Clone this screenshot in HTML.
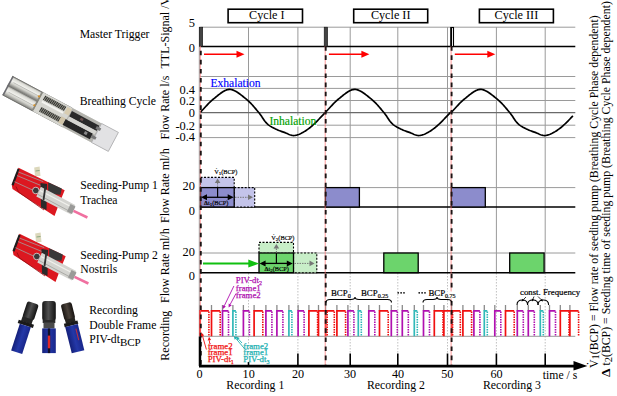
<!DOCTYPE html>
<html><head><meta charset="utf-8"><style>
html,body{margin:0;padding:0;background:#fff;width:617px;height:396px;overflow:hidden}
svg{display:block}
</style></head><body>
<svg width="617" height="396" viewBox="0 0 617 396" font-family="Liberation Serif, serif">
<rect width="617" height="396" fill="#fff"/>
<defs><linearGradient id="cyl" x1="0" y1="0" x2="0" y2="1"><stop offset="0" stop-color="#8a8a86"/><stop offset="0.18" stop-color="#dcdcd6"/><stop offset="0.45" stop-color="#f2f2ee"/><stop offset="0.7" stop-color="#cacac4"/><stop offset="1" stop-color="#7a7a76"/></linearGradient><pattern id="spr" width="2" height="4" patternUnits="userSpaceOnUse" patternTransform="rotate(28) skewX(20)"><rect width="2" height="4" fill="#a8a8a0"/><rect width="1.2" height="4" fill="#2e2e2a"/></pattern></defs><g transform="translate(60.5,113.5) rotate(28)"><rect x="-60" y="-10.5" width="120" height="21.5" fill="#d8d8d2"/><rect x="-60" y="-10.5" width="34" height="10.3" fill="url(#cyl)"/><rect x="-60" y="0" width="34" height="11" fill="url(#cyl)"/><path d="M-60,-10.5 L-58.5,-10.5 L-58.5,10.5 L-60,10.5Z" fill="#6a6a70"/><rect x="-27" y="-10" width="2" height="20" fill="#8a8a82"/><path d="M-60,-10.3 L8,-10.3 M-60,0 L-26,0 M-60,10.8 L8,10.8" stroke="#6a6a66" stroke-width="0.7" fill="none"/><path d="M-56,-5.2 L-28,-5.2 M-56,5.6 L-28,5.6" stroke="#a8a8a2" stroke-width="0.6" fill="none"/><rect x="-25" y="-10.5" width="33" height="21.5" fill="#d6d6d0"/><rect x="-22" y="-8.8" width="24" height="5" fill="url(#spr)"/><rect x="-20" y="3.3" width="23" height="5" fill="url(#spr)"/><rect x="-22" y="-2.8" width="24" height="2" fill="#f4f4f0"/><rect x="-28" y="-6" width="2" height="2" fill="#d09030"/><rect x="-28" y="4" width="2" height="2" fill="#d09030"/><rect x="8" y="-10.5" width="33" height="21.5" fill="#b4b4ae"/><rect x="9" y="-7.5" width="31" height="6" fill="#2a2a2a"/><rect x="7" y="2.5" width="31" height="6.5" fill="#262626"/><rect x="9" y="-1.5" width="31" height="4" fill="#d4d4d0"/><rect x="20" y="-6" width="3" height="2.5" fill="#6a5050"/><rect x="30" y="4" width="3" height="3" fill="#888"/><rect x="3" y="-9" width="5" height="7" fill="#d8ccb0"/><rect x="2" y="2" width="5" height="7" fill="#d0c4a8"/><rect x="41" y="-10.5" width="19" height="21.5" fill="#e2e2e4"/><rect x="41" y="-10.5" width="19" height="21.5" fill="none" stroke="#a8a8aa" stroke-width="0.7"/><rect x="38" y="-6" width="5" height="3" fill="#777"/><rect x="38" y="4" width="5" height="3" fill="#777"/></g><g transform="translate(0,0)"><path d="M18.5,167.8 L64.7,190.2 L59,204 L54.5,216 L12.5,189 L11.8,185Z" fill="#dc1820"/><path d="M16,186.5 L18.5,192 L44,210" stroke="#900c10" stroke-width="0.8" fill="none"/><path d="M11.5,184.7 L17.6,168.5 L19.6,169.2 L13.5,185.8Z" fill="#1e1e1e"/><path d="M18.6,172.1 L43.3,181.7 M17.1,175.6 L41.3,185.7 M14.5,181.7 L35.3,191.3" stroke="#a89090" stroke-width="0.9" fill="none"/><path d="M34.2,167.5 L39.6,166.5 L40.5,176 L35,176Z" fill="#dcd8bc"/><path d="M35.5,171 L39.5,170.5" stroke="#8aa880" stroke-width="1"/><path d="M40.5,183 L47,184 L46.5,210 L41,207.5Z" fill="#2a2a2a"/><path d="M48.2,182.3 L61.8,188.5 L60.5,194.8 L48.2,194Z" fill="#383838"/><path d="M40.8,186.8 L75.2,205 L70.9,214.5 L36.3,196.5Z" fill="#d4d4d0"/><path d="M40,190.5 L73.5,208" stroke="#f0f0ec" stroke-width="1.4"/><path d="M38,194.5 L71.5,212.3" stroke="#a0a09c" stroke-width="0.8"/><path d="M45.5,186 L43.5,200" stroke="#303030" stroke-width="1.8"/><circle cx="35.8" cy="190.5" r="3.3" fill="#3a3a3a" stroke="#d8c8c8" stroke-width="0.9"/><path d="M70.5,204 L75.5,206.5 L72,214 L67,211.5Z" fill="#9a9a98"/><path d="M73.5,210.8 L87.4,217.5" stroke="#f070a0" stroke-width="2.6"/></g><g transform="translate(1,66)"><path d="M18.5,167.8 L64.7,190.2 L59,204 L54.5,216 L12.5,189 L11.8,185Z" fill="#dc1820"/><path d="M16,186.5 L18.5,192 L44,210" stroke="#900c10" stroke-width="0.8" fill="none"/><path d="M11.5,184.7 L17.6,168.5 L19.6,169.2 L13.5,185.8Z" fill="#1e1e1e"/><path d="M18.6,172.1 L43.3,181.7 M17.1,175.6 L41.3,185.7 M14.5,181.7 L35.3,191.3" stroke="#a89090" stroke-width="0.9" fill="none"/><path d="M34.2,167.5 L39.6,166.5 L40.5,176 L35,176Z" fill="#dcd8bc"/><path d="M35.5,171 L39.5,170.5" stroke="#8aa880" stroke-width="1"/><path d="M40.5,183 L47,184 L46.5,210 L41,207.5Z" fill="#2a2a2a"/><path d="M48.2,182.3 L61.8,188.5 L60.5,194.8 L48.2,194Z" fill="#383838"/><path d="M40.8,186.8 L75.2,205 L70.9,214.5 L36.3,196.5Z" fill="#d4d4d0"/><path d="M40,190.5 L73.5,208" stroke="#f0f0ec" stroke-width="1.4"/><path d="M38,194.5 L71.5,212.3" stroke="#a0a09c" stroke-width="0.8"/><path d="M45.5,186 L43.5,200" stroke="#303030" stroke-width="1.8"/><circle cx="35.8" cy="190.5" r="3.3" fill="#3a3a3a" stroke="#d8c8c8" stroke-width="0.9"/><path d="M70.5,204 L75.5,206.5 L72,214 L67,211.5Z" fill="#9a9a98"/><path d="M73.5,210.8 L87.4,217.5" stroke="#f070a0" stroke-width="2.6"/></g><defs><linearGradient id="lens" x1="0" y1="0" x2="1" y2="0"><stop offset="0" stop-color="#141414"/><stop offset="0.45" stop-color="#505050"/><stop offset="1" stop-color="#121212"/></linearGradient><linearGradient id="lensb" x1="0" y1="0" x2="1" y2="0"><stop offset="0" stop-color="#1a1612"/><stop offset="0.5" stop-color="#4a423a"/><stop offset="1" stop-color="#161210"/></linearGradient><linearGradient id="blu" x1="0" y1="0" x2="1" y2="0"><stop offset="0" stop-color="#14207a"/><stop offset="0.5" stop-color="#2438a8"/><stop offset="1" stop-color="#18268a"/></linearGradient></defs><g transform="translate(25,326.5) rotate(18)"><rect x="-5.5" y="-25" width="12" height="17" rx="2.5" fill="url(#lens)"/><rect x="-5.5" y="-9" width="11" height="5" fill="#262626"/><rect x="-8" y="-4.5" width="16" height="3.5" fill="#1a1a1a"/><rect x="-5.8" y="-1" width="11.6" height="28" fill="url(#blu)"/></g><g transform="translate(49,326)"><rect x="-6.8" y="-25" width="13.6" height="20" rx="3" fill="url(#lens)"/><rect x="-6.3" y="-6" width="12.6" height="3" fill="#2a2a2a"/><rect x="-5.5" y="-3.5" width="11" height="6" fill="#4a4a4a"/><rect x="-6.8" y="2.4" width="13.6" height="24.7" fill="url(#blu)"/><rect x="-1.2" y="2.4" width="2.4" height="24.7" fill="#101028"/><rect x="-1.2" y="9.6" width="2.4" height="12.7" fill="#e02828"/></g><g transform="translate(71.5,325.5) rotate(-14)"><rect x="-5.5" y="-23" width="11" height="17" rx="2.5" fill="url(#lensb)"/><rect x="-5" y="-7" width="10" height="4" fill="#262420"/><rect x="-7" y="-3.5" width="14" height="3.5" fill="#1a1a1a"/><rect x="-6.5" y="0" width="13" height="27" fill="url(#blu)"/><rect x="3" y="4" width="1" height="12" fill="#c03040"/></g><g font-family="Liberation Serif, serif"><text x="79.7" y="37.7" font-size="11.7" fill="#000" text-anchor="start" >Master Trigger</text><text x="79.7" y="105.3" font-size="11.7" fill="#000" text-anchor="start" >Breathing Cycle</text><text x="80.3" y="188.8" font-size="11.7" fill="#000" text-anchor="start" >Seeding-Pump 1</text><text x="80.3" y="203.5" font-size="11.7" fill="#000" text-anchor="start" >Trachea</text><text x="80.3" y="259.2" font-size="11.7" fill="#000" text-anchor="start" >Seeding-Pump 2</text><text x="80.3" y="273.4" font-size="11.7" fill="#000" text-anchor="start" >Nostrils</text><text x="89.2" y="314.3" font-size="11.7" fill="#000" text-anchor="start" >Recording</text><text x="89.2" y="328.7" font-size="11.7" fill="#000" text-anchor="start" >Double Frame</text><text x="89.2" y="343.2" font-size="11.7" fill="#000" text-anchor="start" >PIV-dt<tspan font-size="11" dy="2.8">BCP</tspan></text><text transform="translate(168.7,68.5) rotate(-90)" font-size="12" fill="#000">TTL-Signal /V</text><text transform="translate(168.7,139.5) rotate(-90)" font-size="12" fill="#000">Flow Rate l/s</text><text transform="translate(168.7,223) rotate(-90)" font-size="12" fill="#000">Flow Rate ml/h</text><text transform="translate(168.7,303) rotate(-90)" font-size="12" fill="#000">Flow Rate ml/h</text><text transform="translate(168.7,360.7) rotate(-90)" font-size="12" fill="#000">Recording</text><text x="195" y="26.5" font-size="12.4" text-anchor="end">5</text><text x="195" y="51.599999999999994" font-size="12.4" text-anchor="end">0</text><text x="195" y="93.5" font-size="12.4" text-anchor="end">0.4</text><text x="195" y="105.1" font-size="12.4" text-anchor="end">0.2</text><text x="195" y="117.3" font-size="12.4" text-anchor="end">0</text><text x="195" y="129.8" font-size="12.4" text-anchor="end">-0.2</text><text x="195" y="141.10000000000002" font-size="12.4" text-anchor="end">-0.4</text><text x="195" y="190.10000000000002" font-size="12.4" text-anchor="end">20</text><text x="195" y="214.5" font-size="12.4" text-anchor="end">0</text><text x="195" y="255.5" font-size="12.4" text-anchor="end">20</text><text x="195" y="279.6" font-size="12.4" text-anchor="end">0</text><text x="199.5" y="377.6" font-size="12.2" text-anchor="middle">0</text><text x="248.7" y="377.6" font-size="12.2" text-anchor="middle">10</text><text x="298" y="377.6" font-size="12.2" text-anchor="middle">20</text><text x="350" y="377.6" font-size="12.2" text-anchor="middle">30</text><text x="398.1" y="377.6" font-size="12.2" text-anchor="middle">40</text><text x="447.3" y="377.6" font-size="12.2" text-anchor="middle">50</text><text x="496.5" y="377.6" font-size="12.2" text-anchor="middle">60</text><text x="542.8" y="378.5" font-size="11.7" fill="#000" text-anchor="start" >time / s</text><text x="226.3" y="389.2" font-size="11.8" fill="#000" text-anchor="start" >Recording 1</text><text x="367" y="389.2" font-size="11.8" fill="#000" text-anchor="start" >Recording 2</text><text x="483" y="389.2" font-size="11.8" fill="#000" text-anchor="start" >Recording 3</text></g><g stroke="#9a9a9a" stroke-width="1" fill="none"><line x1="248.5" y1="27" x2="248.5" y2="187.5"/><line x1="297.9" y1="27" x2="297.9" y2="273"/><line x1="350.2" y1="27" x2="350.2" y2="273"/><line x1="397.8" y1="27" x2="397.8" y2="273"/><line x1="447.5" y1="27" x2="447.5" y2="273"/><line x1="496.4" y1="27" x2="496.4" y2="273"/><line x1="545.2" y1="27" x2="545.2" y2="273"/></g><g stroke="#b0b0b0" stroke-width="0.8" stroke-dasharray="1.5,1.5" fill="none"><line x1="248.5" y1="273" x2="248.5" y2="354"/><line x1="297.9" y1="273" x2="297.9" y2="354"/><line x1="350.2" y1="273" x2="350.2" y2="354"/><line x1="397.8" y1="273" x2="397.8" y2="354"/><line x1="447.5" y1="273" x2="447.5" y2="354"/><line x1="496.4" y1="273" x2="496.4" y2="354"/><line x1="545.2" y1="273" x2="545.2" y2="354"/></g><g stroke="#9a9a9a" stroke-width="1"><line x1="200.3" y1="27.2" x2="575.3" y2="27.2"/><line x1="200.3" y1="76.5" x2="575.3" y2="76.5"/><line x1="200.3" y1="88.4" x2="575.3" y2="88.4"/><line x1="200.3" y1="100.5" x2="575.3" y2="100.5"/><line x1="200.3" y1="125.2" x2="575.3" y2="125.2"/><line x1="200.3" y1="137.6" x2="575.3" y2="137.6"/><line x1="200.3" y1="187.6" x2="575.3" y2="187.6"/><line x1="200.3" y1="253" x2="575.3" y2="253"/></g><line x1="200.3" y1="112.6" x2="575.3" y2="112.6" stroke="#6a6a6a" stroke-width="1.4"/><line x1="200.3" y1="46.5" x2="575.3" y2="46.5" stroke="#000" stroke-width="1.6"/><line x1="200.3" y1="207" x2="575.3" y2="207" stroke="#000" stroke-width="1.6"/><line x1="200.3" y1="272.7" x2="575.3" y2="272.7" stroke="#000" stroke-width="1.6"/><line x1="199.3" y1="27" x2="199.3" y2="366" stroke="#888" stroke-width="0.8"/><rect x="199.3" y="27.2" width="3.4" height="19.2" fill="#444" stroke="#111" stroke-width="0.6"/><line x1="204.0" y1="54.2" x2="237.5" y2="54.2" stroke="#f00" stroke-width="1.5"/><path d="M244.5,54.2 L236.5,50.7 L236.5,57.7 Z" fill="#f00"/><rect x="324.2" y="27.2" width="3.4" height="19.2" fill="#444" stroke="#111" stroke-width="0.6"/><line x1="328.9" y1="54.2" x2="362.4" y2="54.2" stroke="#f00" stroke-width="1.5"/><path d="M369.4,54.2 L361.4,50.7 L361.4,57.7 Z" fill="#f00"/><rect x="450.90000000000003" y="27.5" width="2.6" height="19" fill="#fff" stroke="#000" stroke-width="1.1"/><line x1="451.3" y1="27" x2="451.3" y2="46.5" stroke="#000" stroke-width="1.5"/><line x1="454.8" y1="54.2" x2="488.3" y2="54.2" stroke="#f00" stroke-width="1.5"/><path d="M495.3,54.2 L487.3,50.7 L487.3,57.7 Z" fill="#f00"/><rect x="269" y="115.5" width="48" height="11" fill="#fff"/><path d="M200.30,112.30 L201.06,111.54 L201.80,110.77 L202.53,110.01 L203.24,109.26 L203.93,108.51 L204.61,107.77 L205.29,107.03 L205.96,106.30 L206.62,105.57 L207.29,104.86 L207.95,104.15 L208.62,103.45 L209.30,102.76 L209.98,102.09 L210.67,101.42 L211.38,100.77 L212.10,100.13 L212.84,99.51 L213.60,98.90 L214.27,98.37 L214.95,97.82 L215.64,97.25 L216.34,96.68 L217.05,96.10 L217.76,95.51 L218.48,94.93 L219.20,94.36 L219.93,93.80 L220.67,93.25 L221.41,92.72 L222.15,92.21 L222.89,91.74 L223.64,91.29 L224.39,90.88 L225.13,90.52 L225.88,90.19 L226.63,89.92 L227.38,89.70 L228.12,89.54 L228.86,89.43 L229.60,89.40 L230.31,89.43 L231.03,89.52 L231.75,89.67 L232.48,89.88 L233.21,90.13 L233.95,90.43 L234.69,90.77 L235.43,91.15 L236.17,91.56 L236.91,92.01 L237.65,92.48 L238.39,92.98 L239.12,93.49 L239.85,94.02 L240.57,94.56 L241.28,95.12 L241.99,95.67 L242.69,96.23 L243.37,96.78 L244.05,97.33 L244.71,97.87 L245.36,98.39 L246.00,98.90 L246.84,99.59 L247.68,100.30 L248.50,101.05 L249.30,101.82 L250.10,102.60 L250.88,103.41 L251.64,104.22 L252.40,105.04 L253.14,105.87 L253.86,106.70 L254.57,107.52 L255.27,108.34 L255.94,109.15 L256.61,109.94 L257.25,110.72 L257.89,111.47 L258.50,112.20 L259.40,113.31 L260.24,114.42 L261.02,115.52 L261.77,116.60 L262.47,117.67 L263.16,118.71 L263.83,119.71 L264.50,120.67 L265.18,121.57 L265.88,122.42 L266.60,123.20 L267.34,123.91 L268.07,124.54 L268.79,125.12 L269.52,125.64 L270.25,126.12 L270.98,126.57 L271.72,126.99 L272.47,127.39 L273.23,127.79 L274.01,128.19 L274.80,128.60 L275.48,128.95 L276.17,129.28 L276.87,129.60 L277.58,129.91 L278.29,130.21 L279.01,130.51 L279.74,130.79 L280.48,131.07 L281.22,131.34 L281.98,131.61 L282.74,131.88 L283.52,132.14 L284.30,132.40 L284.98,132.64 L285.67,132.92 L286.35,133.22 L287.04,133.53 L287.74,133.84 L288.44,134.16 L289.15,134.46 L289.87,134.74 L290.60,134.99 L291.34,135.20 L292.10,135.37 L292.87,135.48 L293.66,135.53 L294.47,135.50 L295.30,135.40 L295.94,135.27 L296.58,135.12 L297.24,134.93 L297.90,134.72 L298.58,134.48 L299.26,134.21 L299.96,133.91 L300.66,133.59 L301.37,133.24 L302.08,132.87 L302.80,132.47 L303.53,132.06 L304.26,131.62 L305.00,131.16 L305.74,130.68 L306.49,130.18 L307.24,129.66 L307.99,129.12 L308.74,128.57 L309.50,128.00 L310.20,127.46 L310.90,126.88 L311.62,126.26 L312.35,125.62 L313.09,124.95 L313.83,124.25 L314.58,123.54 L315.33,122.81 L316.09,122.06 L316.85,121.30 L317.61,120.53 L318.36,119.75 L319.12,118.97 L319.87,118.19 L320.62,117.41 L321.36,116.64 L322.09,115.88 L322.82,115.13 L323.53,114.39 L324.23,113.67 L324.92,112.97 L325.60,112.30 L326.16,111.54 L326.90,110.77 L327.63,110.01 L328.34,109.26 L329.03,108.51 L329.71,107.77 L330.39,107.03 L331.06,106.30 L331.72,105.57 L332.39,104.86 L333.05,104.15 L333.72,103.45 L334.40,102.76 L335.08,102.09 L335.77,101.42 L336.48,100.77 L337.20,100.13 L337.94,99.51 L338.70,98.90 L339.37,98.37 L340.05,97.82 L340.74,97.25 L341.44,96.68 L342.15,96.10 L342.86,95.51 L343.58,94.93 L344.30,94.36 L345.03,93.80 L345.77,93.25 L346.51,92.72 L347.25,92.21 L347.99,91.74 L348.74,91.29 L349.49,90.88 L350.23,90.52 L350.98,90.19 L351.73,89.92 L352.48,89.70 L353.22,89.54 L353.96,89.43 L354.70,89.40 L355.41,89.43 L356.13,89.52 L356.85,89.67 L357.58,89.88 L358.31,90.13 L359.05,90.43 L359.79,90.77 L360.53,91.15 L361.27,91.56 L362.01,92.01 L362.75,92.48 L363.49,92.98 L364.22,93.49 L364.95,94.02 L365.67,94.56 L366.38,95.12 L367.09,95.67 L367.79,96.23 L368.47,96.78 L369.15,97.33 L369.81,97.87 L370.46,98.39 L371.10,98.90 L371.94,99.59 L372.78,100.30 L373.60,101.05 L374.40,101.82 L375.20,102.60 L375.98,103.41 L376.74,104.22 L377.50,105.04 L378.24,105.87 L378.96,106.70 L379.67,107.52 L380.37,108.34 L381.04,109.15 L381.71,109.94 L382.35,110.72 L382.99,111.47 L383.60,112.20 L384.50,113.31 L385.34,114.42 L386.12,115.52 L386.87,116.60 L387.57,117.67 L388.26,118.71 L388.93,119.71 L389.60,120.67 L390.28,121.57 L390.98,122.42 L391.70,123.20 L392.44,123.91 L393.17,124.54 L393.89,125.12 L394.62,125.64 L395.35,126.12 L396.08,126.57 L396.82,126.99 L397.57,127.39 L398.33,127.79 L399.11,128.19 L399.90,128.60 L400.58,128.95 L401.27,129.28 L401.97,129.60 L402.68,129.91 L403.39,130.21 L404.11,130.51 L404.84,130.79 L405.58,131.07 L406.32,131.34 L407.08,131.61 L407.84,131.88 L408.62,132.14 L409.40,132.40 L410.08,132.64 L410.77,132.92 L411.45,133.22 L412.14,133.53 L412.84,133.84 L413.54,134.16 L414.25,134.46 L414.97,134.74 L415.70,134.99 L416.44,135.20 L417.20,135.37 L417.97,135.48 L418.76,135.53 L419.57,135.50 L420.40,135.40 L421.04,135.27 L421.68,135.12 L422.34,134.93 L423.00,134.72 L423.68,134.48 L424.36,134.21 L425.06,133.91 L425.76,133.59 L426.47,133.24 L427.18,132.87 L427.90,132.47 L428.63,132.06 L429.36,131.62 L430.10,131.16 L430.84,130.68 L431.59,130.18 L432.34,129.66 L433.09,129.12 L433.84,128.57 L434.60,128.00 L435.30,127.46 L436.00,126.88 L436.72,126.26 L437.45,125.62 L438.19,124.95 L438.93,124.25 L439.68,123.54 L440.43,122.81 L441.19,122.06 L441.95,121.30 L442.71,120.53 L443.46,119.75 L444.22,118.97 L444.97,118.19 L445.72,117.41 L446.46,116.64 L447.19,115.88 L447.92,115.13 L448.63,114.39 L449.33,113.67 L450.02,112.97 L450.70,112.30 L452.06,111.54 L452.80,110.77 L453.52,110.01 L454.23,109.26 L454.93,108.51 L455.61,107.77 L456.28,107.03 L456.95,106.30 L457.61,105.57 L458.28,104.86 L458.94,104.15 L459.61,103.45 L460.28,102.76 L460.96,102.09 L461.66,101.42 L462.36,100.77 L463.08,100.13 L463.82,99.51 L464.58,98.90 L465.25,98.37 L465.93,97.82 L466.62,97.25 L467.31,96.68 L468.02,96.10 L468.73,95.51 L469.45,94.93 L470.17,94.36 L470.90,93.80 L471.64,93.25 L472.37,92.72 L473.11,92.21 L473.86,91.74 L474.60,91.29 L475.35,90.88 L476.09,90.52 L476.84,90.19 L477.59,89.92 L478.33,89.70 L479.08,89.54 L479.82,89.43 L480.55,89.40 L481.26,89.43 L481.98,89.52 L482.70,89.67 L483.43,89.88 L484.16,90.13 L484.89,90.43 L485.63,90.77 L486.37,91.15 L487.11,91.56 L487.85,92.01 L488.59,92.48 L489.33,92.98 L490.06,93.49 L490.78,94.02 L491.50,94.56 L492.22,95.12 L492.92,95.67 L493.62,96.23 L494.31,96.78 L494.98,97.33 L495.64,97.87 L496.29,98.39 L496.93,98.90 L497.77,99.59 L498.60,100.30 L499.42,101.05 L500.22,101.82 L501.02,102.60 L501.80,103.41 L502.56,104.22 L503.31,105.04 L504.05,105.87 L504.78,106.70 L505.48,107.52 L506.18,108.34 L506.86,109.15 L507.52,109.94 L508.16,110.72 L508.79,111.47 L509.41,112.20 L510.31,113.31 L511.14,114.42 L511.93,115.52 L512.67,116.60 L513.37,117.67 L514.06,118.71 L514.73,119.71 L515.40,120.67 L516.08,121.57 L516.77,122.42 L517.49,123.20 L518.23,123.91 L518.96,124.54 L519.68,125.12 L520.41,125.64 L521.14,126.12 L521.87,126.57 L522.60,126.99 L523.35,127.39 L524.11,127.79 L524.89,128.19 L525.68,128.60 L526.36,128.95 L527.05,129.28 L527.75,129.60 L528.45,129.91 L529.17,130.21 L529.89,130.51 L530.61,130.79 L531.35,131.07 L532.09,131.34 L532.85,131.61 L533.61,131.88 L534.38,132.14 L535.17,132.40 L535.85,132.64 L536.53,132.92 L537.22,133.22 L537.90,133.53 L538.60,133.84 L539.30,134.16 L540.01,134.46 L540.72,134.74 L541.45,134.99 L542.20,135.20 L542.95,135.37 L543.72,135.48 L544.51,135.53 L545.32,135.50 L546.15,135.40 L546.78,135.27 L547.43,135.12 L548.08,134.93 L548.75,134.72 L549.42,134.48 L550.11,134.21 L550.80,133.91 L551.50,133.59 L552.21,133.24 L552.92,132.87 L553.64,132.47 L554.36,132.06 L555.10,131.62 L555.83,131.16 L556.57,130.68 L557.32,130.18 L558.07,129.66 L558.82,129.12 L559.57,128.57 L560.33,128.00 L561.02,127.46 L561.73,126.88 L562.44,126.26 L563.17,125.62 L563.91,124.95 L564.65,124.25 L565.40,123.54 L566.15,122.81 L566.90,122.06 L567.66,121.30 L568.42,120.53 L569.18,119.75 L569.93,118.97 L570.68,118.19 L571.43,117.41 L572.17,116.64 L572.90,115.88" fill="none" stroke="#000" stroke-width="1.7" stroke-linejoin="round"/><g font-family="Liberation Serif, serif"><text x="210.4" y="86.5" font-size="11.6" fill="#0000ff" text-anchor="start" stroke="#0000ff" stroke-width="0.15" >Exhalation</text><text x="269.4" y="124.5" font-size="11.6" fill="#00a000" text-anchor="start" stroke="#00a000" stroke-width="0.15" >Inhalation</text></g><rect x="200.5" y="177.4" width="33.7" height="10.2" fill="#c4c4ea" stroke="#000" stroke-width="1.1" stroke-dasharray="2,1.5"/><rect x="234.2" y="187.6" width="20.5" height="19.4" fill="#c4c4ea" stroke="#000" stroke-width="1.1" stroke-dasharray="2,1.5"/><rect x="200.5" y="187.6" width="33.7" height="19.4" fill="#8c8ccc" stroke="#000" stroke-width="1.3"/><line x1="217.6" y1="187.6" x2="217.6" y2="197.3" stroke="#000" stroke-width="1.2"/><line x1="205" y1="197.3" x2="230" y2="197.3" stroke="#000" stroke-width="1.3"/><path d="M201,197.3 L207,194.3 L207,200.3Z M233.7,197.3 L227.7,194.3 L227.7,200.3Z" fill="#000"/><line x1="217.6" y1="187" x2="217.6" y2="182" stroke="#777" stroke-width="1" stroke-dasharray="1.5,1"/><path d="M217.6,178.5 L214.8,183 L220.4,183Z" fill="#777"/><line x1="235" y1="197.3" x2="249" y2="197.3" stroke="#777" stroke-width="1" stroke-dasharray="1.5,1"/><path d="M253,197.3 L248,194.5 L248,200.1Z" fill="#777"/><g font-family="Liberation Serif, serif"><text x="214.2" y="173.5" font-size="6.3" stroke="#000" stroke-width="0.18">V̇<tspan font-size="5" dy="1">1</tspan><tspan dy="-1">(BCP)</tspan></text><text x="204" y="205" font-size="6.3" stroke="#000" stroke-width="0.18"><tspan font-weight="bold">Δ</tspan>t<tspan font-size="5" dy="1">1</tspan><tspan dy="-1">(BCP)</tspan></text></g><rect x="325.4" y="187.6" width="34" height="19.4" fill="#8c8ccc" stroke="#000" stroke-width="1.3"/><rect x="451.3" y="187.6" width="34" height="19.4" fill="#8c8ccc" stroke="#000" stroke-width="1.3"/><rect x="259" y="242.4" width="34.5" height="11" fill="#c8eec8" stroke="#000" stroke-width="1.1" stroke-dasharray="2,1.5"/><rect x="293.5" y="253" width="23.3" height="19.7" fill="#c8eec8" stroke="#000" stroke-width="1.1" stroke-dasharray="2,1.5"/><rect x="259" y="253" width="34.5" height="19.7" fill="#6cd46c" stroke="#000" stroke-width="1.3"/><line x1="276.4" y1="253" x2="276.4" y2="263.4" stroke="#000" stroke-width="1.2"/><line x1="264" y1="263.4" x2="289" y2="263.4" stroke="#000" stroke-width="1.3"/><path d="M259.6,263.4 L265.6,260.4 L265.6,266.4Z M292.8,263.4 L286.8,260.4 L286.8,266.4Z" fill="#000"/><line x1="276.4" y1="252.5" x2="276.4" y2="248" stroke="#777" stroke-width="1" stroke-dasharray="1.5,1"/><path d="M276.4,244 L273.6,248.5 L279.2,248.5Z" fill="#777"/><line x1="294.5" y1="263.4" x2="310" y2="263.4" stroke="#777" stroke-width="1" stroke-dasharray="1.5,1"/><path d="M314.5,263.4 L309.5,260.6 L309.5,266.2Z" fill="#777"/><line x1="203" y1="263.6" x2="250" y2="263.6" stroke="#10c010" stroke-width="2"/><path d="M259.3,263.6 L248.3,259.6 L248.3,267.6Z" fill="#10c010"/><g font-family="Liberation Serif, serif"><text x="271.3" y="239.5" font-size="6.3" stroke="#000" stroke-width="0.18">V̇<tspan font-size="5" dy="1">2</tspan><tspan dy="-1">(BCP)</tspan></text><text x="264.5" y="270.8" font-size="6.3" stroke="#000" stroke-width="0.18"><tspan font-weight="bold">Δ</tspan>t<tspan font-size="5" dy="1">2</tspan><tspan dy="-1">(BCP)</tspan></text></g><rect x="383.79999999999995" y="253" width="34.4" height="19.7" fill="#6cd46c" stroke="#000" stroke-width="1.3"/><rect x="509.7" y="253" width="34.4" height="19.7" fill="#6cd46c" stroke="#000" stroke-width="1.3"/><line x1="200.3" y1="336.3" x2="575.3" y2="336.3" stroke="#999" stroke-width="1"/><line x1="200.2" y1="305" x2="200.2" y2="310.8" stroke="#8a8a8a" stroke-width="1.3"/><path d="M200.2,336.3 L200.2,310.8 L208.9,310.8" fill="none" stroke="#f01010" stroke-width="1.7"/><line x1="208.9" y1="311.6" x2="208.9" y2="336.3" stroke="#f01010" stroke-width="1.6" stroke-dasharray="1.3,1.2"/><line x1="211.5" y1="305" x2="211.5" y2="310.8" stroke="#8a8a8a" stroke-width="1.3"/><path d="M211.5,336.3 L211.5,310.8 L220.2,310.8" fill="none" stroke="#f01010" stroke-width="1.7"/><line x1="220.2" y1="311.6" x2="220.2" y2="336.3" stroke="#f01010" stroke-width="1.6" stroke-dasharray="1.3,1.2"/><line x1="222.5" y1="305" x2="222.5" y2="310.8" stroke="#8a8a8a" stroke-width="1.3"/><path d="M222.5,336.3 L222.5,310.8 L228.5,310.8" fill="none" stroke="#b010b0" stroke-width="1.7"/><line x1="228.5" y1="311.6" x2="228.5" y2="336.3" stroke="#b010b0" stroke-width="1.6" stroke-dasharray="1.3,1.2"/><line x1="232.9" y1="305" x2="232.9" y2="310.8" stroke="#8a8a8a" stroke-width="1.3"/><path d="M232.9,336.3 L232.9,310.8 L235.9,310.8" fill="none" stroke="#30b8b8" stroke-width="1.7"/><line x1="235.9" y1="311.6" x2="235.9" y2="336.3" stroke="#30b8b8" stroke-width="1.6" stroke-dasharray="1.3,1.2"/><line x1="243.4" y1="305" x2="243.4" y2="310.8" stroke="#8a8a8a" stroke-width="1.3"/><path d="M243.4,336.3 L243.4,310.8 L249.4,310.8" fill="none" stroke="#b010b0" stroke-width="1.7"/><line x1="249.4" y1="311.6" x2="249.4" y2="336.3" stroke="#b010b0" stroke-width="1.6" stroke-dasharray="1.3,1.2"/><line x1="254.1" y1="305" x2="254.1" y2="310.8" stroke="#8a8a8a" stroke-width="1.3"/><path d="M254.1,336.3 L254.1,310.8 L262.8,310.8" fill="none" stroke="#f01010" stroke-width="1.7"/><line x1="262.8" y1="311.6" x2="262.8" y2="336.3" stroke="#f01010" stroke-width="1.6" stroke-dasharray="1.3,1.2"/><line x1="265.9" y1="305" x2="265.9" y2="310.8" stroke="#8a8a8a" stroke-width="1.3"/><path d="M265.9,336.3 L265.9,310.8 L271.9,310.8" fill="none" stroke="#b010b0" stroke-width="1.7"/><line x1="271.9" y1="311.6" x2="271.9" y2="336.3" stroke="#b010b0" stroke-width="1.6" stroke-dasharray="1.3,1.2"/><line x1="276.9" y1="305" x2="276.9" y2="310.8" stroke="#8a8a8a" stroke-width="1.3"/><path d="M276.9,336.3 L276.9,310.8 L282.9,310.8" fill="none" stroke="#b010b0" stroke-width="1.7"/><line x1="282.9" y1="311.6" x2="282.9" y2="336.3" stroke="#b010b0" stroke-width="1.6" stroke-dasharray="1.3,1.2"/><line x1="288.9" y1="305" x2="288.9" y2="310.8" stroke="#8a8a8a" stroke-width="1.3"/><path d="M288.9,336.3 L288.9,310.8 L291.9,310.8" fill="none" stroke="#30b8b8" stroke-width="1.7"/><line x1="291.9" y1="311.6" x2="291.9" y2="336.3" stroke="#30b8b8" stroke-width="1.6" stroke-dasharray="1.3,1.2"/><line x1="298.1" y1="305" x2="298.1" y2="310.8" stroke="#8a8a8a" stroke-width="1.3"/><path d="M298.1,336.3 L298.1,310.8 L304.1,310.8" fill="none" stroke="#b010b0" stroke-width="1.7"/><line x1="304.1" y1="311.6" x2="304.1" y2="336.3" stroke="#b010b0" stroke-width="1.6" stroke-dasharray="1.3,1.2"/><line x1="308.9" y1="305" x2="308.9" y2="310.8" stroke="#8a8a8a" stroke-width="1.3"/><path d="M308.9,336.3 L308.9,310.8 L317.6,310.8" fill="none" stroke="#f01010" stroke-width="1.7"/><line x1="317.6" y1="311.6" x2="317.6" y2="336.3" stroke="#f01010" stroke-width="1.6" stroke-dasharray="1.3,1.2"/><line x1="318.5" y1="305" x2="318.5" y2="310.8" stroke="#8a8a8a" stroke-width="1.3"/><path d="M318.5,336.3 L318.5,310.8 L327.2,310.8" fill="none" stroke="#f01010" stroke-width="1.7"/><line x1="327.2" y1="311.6" x2="327.2" y2="336.3" stroke="#f01010" stroke-width="1.6" stroke-dasharray="1.3,1.2"/><line x1="325.6" y1="305" x2="325.6" y2="310.8" stroke="#8a8a8a" stroke-width="1.3"/><path d="M325.6,336.3 L325.6,310.8 L334.3,310.8" fill="none" stroke="#f01010" stroke-width="1.7"/><line x1="334.3" y1="311.6" x2="334.3" y2="336.3" stroke="#f01010" stroke-width="1.6" stroke-dasharray="1.3,1.2"/><line x1="336.9" y1="305" x2="336.9" y2="310.8" stroke="#8a8a8a" stroke-width="1.3"/><path d="M336.9,336.3 L336.9,310.8 L345.6,310.8" fill="none" stroke="#f01010" stroke-width="1.7"/><line x1="345.6" y1="311.6" x2="345.6" y2="336.3" stroke="#f01010" stroke-width="1.6" stroke-dasharray="1.3,1.2"/><line x1="347.9" y1="305" x2="347.9" y2="310.8" stroke="#8a8a8a" stroke-width="1.3"/><path d="M347.9,336.3 L347.9,310.8 L353.9,310.8" fill="none" stroke="#b010b0" stroke-width="1.7"/><line x1="353.9" y1="311.6" x2="353.9" y2="336.3" stroke="#b010b0" stroke-width="1.6" stroke-dasharray="1.3,1.2"/><line x1="358.3" y1="305" x2="358.3" y2="310.8" stroke="#8a8a8a" stroke-width="1.3"/><path d="M358.3,336.3 L358.3,310.8 L361.3,310.8" fill="none" stroke="#30b8b8" stroke-width="1.7"/><line x1="361.3" y1="311.6" x2="361.3" y2="336.3" stroke="#30b8b8" stroke-width="1.6" stroke-dasharray="1.3,1.2"/><line x1="368.8" y1="305" x2="368.8" y2="310.8" stroke="#8a8a8a" stroke-width="1.3"/><path d="M368.8,336.3 L368.8,310.8 L374.8,310.8" fill="none" stroke="#b010b0" stroke-width="1.7"/><line x1="374.8" y1="311.6" x2="374.8" y2="336.3" stroke="#b010b0" stroke-width="1.6" stroke-dasharray="1.3,1.2"/><line x1="379.5" y1="305" x2="379.5" y2="310.8" stroke="#8a8a8a" stroke-width="1.3"/><path d="M379.5,336.3 L379.5,310.8 L388.2,310.8" fill="none" stroke="#f01010" stroke-width="1.7"/><line x1="388.2" y1="311.6" x2="388.2" y2="336.3" stroke="#f01010" stroke-width="1.6" stroke-dasharray="1.3,1.2"/><line x1="391.3" y1="305" x2="391.3" y2="310.8" stroke="#8a8a8a" stroke-width="1.3"/><path d="M391.3,336.3 L391.3,310.8 L397.3,310.8" fill="none" stroke="#b010b0" stroke-width="1.7"/><line x1="397.3" y1="311.6" x2="397.3" y2="336.3" stroke="#b010b0" stroke-width="1.6" stroke-dasharray="1.3,1.2"/><line x1="402.3" y1="305" x2="402.3" y2="310.8" stroke="#8a8a8a" stroke-width="1.3"/><path d="M402.3,336.3 L402.3,310.8 L408.3,310.8" fill="none" stroke="#b010b0" stroke-width="1.7"/><line x1="408.3" y1="311.6" x2="408.3" y2="336.3" stroke="#b010b0" stroke-width="1.6" stroke-dasharray="1.3,1.2"/><line x1="414.3" y1="305" x2="414.3" y2="310.8" stroke="#8a8a8a" stroke-width="1.3"/><path d="M414.3,336.3 L414.3,310.8 L417.3,310.8" fill="none" stroke="#30b8b8" stroke-width="1.7"/><line x1="417.3" y1="311.6" x2="417.3" y2="336.3" stroke="#30b8b8" stroke-width="1.6" stroke-dasharray="1.3,1.2"/><line x1="423.5" y1="305" x2="423.5" y2="310.8" stroke="#8a8a8a" stroke-width="1.3"/><path d="M423.5,336.3 L423.5,310.8 L429.5,310.8" fill="none" stroke="#b010b0" stroke-width="1.7"/><line x1="429.5" y1="311.6" x2="429.5" y2="336.3" stroke="#b010b0" stroke-width="1.6" stroke-dasharray="1.3,1.2"/><line x1="434.3" y1="305" x2="434.3" y2="310.8" stroke="#8a8a8a" stroke-width="1.3"/><path d="M434.3,336.3 L434.3,310.8 L443.0,310.8" fill="none" stroke="#f01010" stroke-width="1.7"/><line x1="443.0" y1="311.6" x2="443.0" y2="336.3" stroke="#f01010" stroke-width="1.6" stroke-dasharray="1.3,1.2"/><line x1="443.9" y1="305" x2="443.9" y2="310.8" stroke="#8a8a8a" stroke-width="1.3"/><path d="M443.9,336.3 L443.9,310.8 L452.6,310.8" fill="none" stroke="#f01010" stroke-width="1.7"/><line x1="452.6" y1="311.6" x2="452.6" y2="336.3" stroke="#f01010" stroke-width="1.6" stroke-dasharray="1.3,1.2"/><line x1="451.6" y1="305" x2="451.6" y2="310.8" stroke="#8a8a8a" stroke-width="1.3"/><path d="M451.6,336.3 L451.6,310.8 L460.3,310.8" fill="none" stroke="#f01010" stroke-width="1.7"/><line x1="460.3" y1="311.6" x2="460.3" y2="336.3" stroke="#f01010" stroke-width="1.6" stroke-dasharray="1.3,1.2"/><line x1="462.9" y1="305" x2="462.9" y2="310.8" stroke="#8a8a8a" stroke-width="1.3"/><path d="M462.9,336.3 L462.9,310.8 L471.6,310.8" fill="none" stroke="#f01010" stroke-width="1.7"/><line x1="471.6" y1="311.6" x2="471.6" y2="336.3" stroke="#f01010" stroke-width="1.6" stroke-dasharray="1.3,1.2"/><line x1="473.9" y1="305" x2="473.9" y2="310.8" stroke="#8a8a8a" stroke-width="1.3"/><path d="M473.9,336.3 L473.9,310.8 L479.9,310.8" fill="none" stroke="#b010b0" stroke-width="1.7"/><line x1="479.9" y1="311.6" x2="479.9" y2="336.3" stroke="#b010b0" stroke-width="1.6" stroke-dasharray="1.3,1.2"/><line x1="484.3" y1="305" x2="484.3" y2="310.8" stroke="#8a8a8a" stroke-width="1.3"/><path d="M484.3,336.3 L484.3,310.8 L487.3,310.8" fill="none" stroke="#30b8b8" stroke-width="1.7"/><line x1="487.3" y1="311.6" x2="487.3" y2="336.3" stroke="#30b8b8" stroke-width="1.6" stroke-dasharray="1.3,1.2"/><line x1="494.8" y1="305" x2="494.8" y2="310.8" stroke="#8a8a8a" stroke-width="1.3"/><path d="M494.8,336.3 L494.8,310.8 L500.8,310.8" fill="none" stroke="#b010b0" stroke-width="1.7"/><line x1="500.8" y1="311.6" x2="500.8" y2="336.3" stroke="#b010b0" stroke-width="1.6" stroke-dasharray="1.3,1.2"/><line x1="505.5" y1="305" x2="505.5" y2="310.8" stroke="#8a8a8a" stroke-width="1.3"/><path d="M505.5,336.3 L505.5,310.8 L514.2,310.8" fill="none" stroke="#f01010" stroke-width="1.7"/><line x1="514.2" y1="311.6" x2="514.2" y2="336.3" stroke="#f01010" stroke-width="1.6" stroke-dasharray="1.3,1.2"/><line x1="517.3" y1="305" x2="517.3" y2="310.8" stroke="#8a8a8a" stroke-width="1.3"/><path d="M517.3,336.3 L517.3,310.8 L523.3,310.8" fill="none" stroke="#b010b0" stroke-width="1.7"/><line x1="523.3" y1="311.6" x2="523.3" y2="336.3" stroke="#b010b0" stroke-width="1.6" stroke-dasharray="1.3,1.2"/><line x1="528.3" y1="305" x2="528.3" y2="310.8" stroke="#8a8a8a" stroke-width="1.3"/><path d="M528.3,336.3 L528.3,310.8 L534.3,310.8" fill="none" stroke="#b010b0" stroke-width="1.7"/><line x1="534.3" y1="311.6" x2="534.3" y2="336.3" stroke="#b010b0" stroke-width="1.6" stroke-dasharray="1.3,1.2"/><line x1="540.3" y1="305" x2="540.3" y2="310.8" stroke="#8a8a8a" stroke-width="1.3"/><path d="M540.3,336.3 L540.3,310.8 L543.3,310.8" fill="none" stroke="#30b8b8" stroke-width="1.7"/><line x1="543.3" y1="311.6" x2="543.3" y2="336.3" stroke="#30b8b8" stroke-width="1.6" stroke-dasharray="1.3,1.2"/><line x1="549.5" y1="305" x2="549.5" y2="310.8" stroke="#8a8a8a" stroke-width="1.3"/><path d="M549.5,336.3 L549.5,310.8 L555.5,310.8" fill="none" stroke="#b010b0" stroke-width="1.7"/><line x1="555.5" y1="311.6" x2="555.5" y2="336.3" stroke="#b010b0" stroke-width="1.6" stroke-dasharray="1.3,1.2"/><line x1="560.3" y1="305" x2="560.3" y2="310.8" stroke="#8a8a8a" stroke-width="1.3"/><path d="M560.3,336.3 L560.3,310.8 L569.0,310.8" fill="none" stroke="#f01010" stroke-width="1.7"/><line x1="569.0" y1="311.6" x2="569.0" y2="336.3" stroke="#f01010" stroke-width="1.6" stroke-dasharray="1.3,1.2"/><line x1="569.9" y1="305" x2="569.9" y2="310.8" stroke="#8a8a8a" stroke-width="1.3"/><path d="M569.9,336.3 L569.9,310.8 L578.6,310.8" fill="none" stroke="#f01010" stroke-width="1.7"/><line x1="578.6" y1="311.6" x2="578.6" y2="336.3" stroke="#f01010" stroke-width="1.6" stroke-dasharray="1.3,1.2"/><line x1="200.3" y1="46" x2="200.3" y2="366" stroke="#ff7070" stroke-width="0.7"/><line x1="200.8" y1="50.7" x2="200.8" y2="366" stroke="#1e1414" stroke-width="1.9" stroke-dasharray="4.6,4.5"/><line x1="325.2" y1="46" x2="325.2" y2="366" stroke="#ff7070" stroke-width="0.7"/><line x1="325.7" y1="46.2" x2="325.7" y2="366" stroke="#1e1414" stroke-width="1.9" stroke-dasharray="4.6,4.5"/><line x1="451.1" y1="46" x2="451.1" y2="366" stroke="#ff7070" stroke-width="0.7"/><line x1="451.6" y1="46.2" x2="451.6" y2="366" stroke="#1e1414" stroke-width="1.9" stroke-dasharray="4.6,4.5"/><line x1="248.5" y1="362" x2="248.5" y2="366" stroke="#000" stroke-width="1.6"/><line x1="297.9" y1="353.5" x2="297.9" y2="366" stroke="#000" stroke-width="1.6"/><line x1="350.2" y1="353.5" x2="350.2" y2="366" stroke="#000" stroke-width="1.6"/><line x1="397.8" y1="353.5" x2="397.8" y2="366" stroke="#000" stroke-width="1.6"/><line x1="447.5" y1="353.5" x2="447.5" y2="366" stroke="#000" stroke-width="1.6"/><line x1="496.4" y1="353.5" x2="496.4" y2="366" stroke="#000" stroke-width="1.6"/><line x1="545.2" y1="353.5" x2="545.2" y2="366" stroke="#000" stroke-width="1.6"/><line x1="200" y1="336.5" x2="200" y2="366" stroke="#000" stroke-width="2.4"/><line x1="199" y1="366.2" x2="576" y2="366.2" stroke="#000" stroke-width="2.8"/><path d="M587.4,365.9 L573.5,361 L573.5,370.6Z" fill="#000"/><g font-family="Liberation Serif, serif"><rect x="228.10000000000002" y="9.2" width="74.4" height="13.5" fill="#fff" stroke="#000" stroke-width="1.6"/><text x="266.8" y="19.1" font-size="12.2" text-anchor="middle">Cycle I</text><rect x="353.7" y="9.2" width="74.00000000000003" height="13.5" fill="#fff" stroke="#000" stroke-width="1.6"/><text x="390.7" y="19.1" font-size="12.2" text-anchor="middle">Cycle II</text><rect x="479.40000000000003" y="9.2" width="74.00000000000003" height="13.5" fill="#fff" stroke="#000" stroke-width="1.6"/><text x="516.4000000000001" y="19.1" font-size="12.2" text-anchor="middle">Cycle III</text></g><g font-family="Liberation Serif, serif"><text x="331" y="295.5" font-size="8.8" fill="#000" text-anchor="start" stroke="#000" stroke-width="0.2" >BCP<tspan font-size="6" dy="2">0</tspan></text><text x="361" y="295.5" font-size="8.8" fill="#000" text-anchor="start" stroke="#000" stroke-width="0.2" >BCP<tspan font-size="6" dy="2">0.25</tspan></text><rect x="444" y="291.5" width="11.5" height="7" fill="#fff"/><text x="428.4" y="295.5" font-size="8.8" fill="#000" text-anchor="start" stroke="#000" stroke-width="0.2" >BCP<tspan font-size="6" dy="2">0.75</tspan></text><circle cx="398.2" cy="292.8" r="0.85" fill="#000"/><circle cx="401.1" cy="292.8" r="0.85" fill="#000"/><circle cx="404.0" cy="292.8" r="0.85" fill="#000"/><circle cx="419.2" cy="292.8" r="0.85" fill="#000"/><circle cx="422.1" cy="292.8" r="0.85" fill="#000"/><circle cx="425.0" cy="292.8" r="0.85" fill="#000"/><text x="520" y="295.3" font-size="8.8" fill="#000" text-anchor="start" stroke="#000" stroke-width="0.2" >const. Frequency</text><text x="235.8" y="282.5" font-size="8.8" fill="#b010b0" text-anchor="start" stroke="#b010b0" stroke-width="0.25" >PIV-dt<tspan font-size="6" dy="2">2</tspan></text><text x="235.8" y="290.5" font-size="8.8" fill="#b010b0" text-anchor="start" stroke="#b010b0" stroke-width="0.25" >frame1</text><text x="235.8" y="297.5" font-size="8.8" fill="#b010b0" text-anchor="start" stroke="#b010b0" stroke-width="0.25" >frame2</text><text x="207.7" y="348.5" font-size="8.8" fill="#f01010" text-anchor="start" stroke="#f01010" stroke-width="0.25" >frame2</text><text x="207.7" y="355" font-size="8.8" fill="#f01010" text-anchor="start" stroke="#f01010" stroke-width="0.25" >frame1</text><text x="207.7" y="362" font-size="8.8" fill="#f01010" text-anchor="start" stroke="#f01010" stroke-width="0.25" >PIV-dt<tspan font-size="6" dy="2">1</tspan></text><text x="243.3" y="348.5" font-size="8.8" fill="#20b0b0" text-anchor="start" stroke="#20b0b0" stroke-width="0.25" >frame2</text><text x="243.3" y="355" font-size="8.8" fill="#20b0b0" text-anchor="start" stroke="#20b0b0" stroke-width="0.25" >frame1</text><text x="243.3" y="362" font-size="8.8" fill="#20b0b0" text-anchor="start" stroke="#20b0b0" stroke-width="0.25" >PIV-dt<tspan font-size="6" dy="2">3</tspan></text></g><path d="M326,302.5 Q326,299.5 330,299.5 L351,299.5 Q355,299.5 355,297.0 Q355,299.5 359,299.5 L387.5,299.5 Q391.5,299.5 391.5,302.5" fill="none" stroke="#000" stroke-width="1.1"/><path d="M423,302.5 Q423,299.5 427,299.5 L433,299.5 Q437,299.5 437,297.0 Q437,299.5 441,299.5 L447.6,299.5 Q451.6,299.5 451.6,302.5" fill="none" stroke="#000" stroke-width="1.1"/><path d="M517,305 Q517,300 522.3,300 Q527.6,300 527.6,305" fill="none" stroke="#000" stroke-width="1.1"/><path d="M527.5,305 Q527.5,300 532.8,300 Q538.1,300 538.1,305" fill="none" stroke="#000" stroke-width="1.1"/><path d="M538,305 Q538,300 543.3,300 Q548.6,300 548.6,305" fill="none" stroke="#000" stroke-width="1.1"/><line x1="233.9" y1="286" x2="224.3" y2="305.8" stroke="#b010b0" stroke-width="0.9"/><path d="M222.8,309 L222.7,305.1 L225.9,306.6Z" fill="#b010b0"/><line x1="236" y1="293.5" x2="230.2" y2="304.4" stroke="#b010b0" stroke-width="0.9"/><path d="M228.6,307.5 L228.7,303.6 L231.8,305.2Z" fill="#b010b0"/><line x1="206.4" y1="349.5" x2="202.5" y2="335.9" stroke="#f01010" stroke-width="0.9"/><path d="M201.5,332.5 L204.2,335.4 L200.8,336.3Z" fill="#f01010"/><line x1="209.6" y1="343" x2="209.3" y2="340.3" stroke="#f01010" stroke-width="0.9"/><path d="M209,336.8 L211.1,340.1 L207.6,340.5Z" fill="#f01010"/><line x1="244.6" y1="348.8" x2="236.1" y2="338.7" stroke="#20b0b0" stroke-width="0.9"/><path d="M233.8,336 L237.4,337.5 L234.7,339.8Z" fill="#20b0b0"/><line x1="242" y1="343" x2="238.4" y2="339.1" stroke="#20b0b0" stroke-width="0.9"/><path d="M236,336.5 L239.7,337.9 L237.1,340.3Z" fill="#20b0b0"/><line x1="526" y1="297" x2="523.3" y2="299.7" stroke="#000" stroke-width="0.8"/><path d="M521.5,301.5 L522.4,298.8 L524.2,300.6Z" fill="#000"/><line x1="534" y1="296.5" x2="532.9" y2="299.2" stroke="#000" stroke-width="0.8"/><path d="M532,301.5 L531.8,298.7 L534.1,299.6Z" fill="#000"/><line x1="538" y1="296.5" x2="541.2" y2="299.7" stroke="#000" stroke-width="0.8"/><path d="M543,301.5 L540.3,300.6 L542.1,298.8Z" fill="#000"/><g font-family="Liberation Serif, serif"><text transform="translate(597.6,368) rotate(-90)" font-size="11.8">V̇<tspan font-size="10.5" dy="1.8">1</tspan><tspan dy="-1.8">(BCP) = Flow rate of seeding pump (Breathing Cycle Phase dependent)</tspan></text><text transform="translate(610.4,377) rotate(-90)" font-size="11.8"><tspan font-weight="bold" font-size="13.5">Δ</tspan> t<tspan font-size="10.5" dy="1.8">2</tspan><tspan dy="-1.8">(BCP) = Seeding time of seeding pump (Breathing Cycle Phase dependent)</tspan></text></g>
</svg></body></html>
